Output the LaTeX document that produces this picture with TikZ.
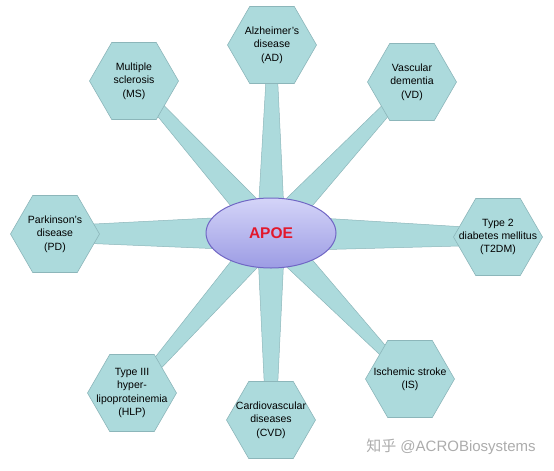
\documentclass[tikz,border=0pt]{standalone}
\usepackage{fontspec}
\setmainfont{Liberation Sans}
\newfontfamily\cjkfont{Noto Sans CJK SC}
\usetikzlibrary{calc,shapes.geometric}
\pgfdeclarelayer{background}
\pgfsetlayers{background,main}
\definecolor{hexfill}{RGB}{172,218,220}
\definecolor{hexline}{RGB}{140,182,186}
\definecolor{apoetop}{RGB}{212,212,248}
\definecolor{apoebot}{RGB}{156,156,228}
\definecolor{apoeline}{RGB}{112,102,196}
\definecolor{apoered}{RGB}{226,24,44}
\definecolor{markgray}{RGB}{172,172,172}

% tapered spoke from the centre to one disease
\newcommand{\spoke}[3]{%
  \path[spoke] ($(apoe.center)!#2!90:(#1.center)$)
    -- ($(#1.center)!#3!-90:(apoe.center)$)
    -- ($(#1.center)!#3!90:(apoe.center)$)
    -- ($(apoe.center)!#2!-90:(#1.center)$) -- cycle;}

\begin{document}
\begin{tikzpicture}[x=1pt,y=-1pt,
    disease/.style={regular polygon,regular polygon sides=6,minimum size=89pt,
                    inner sep=0pt,fill=hexfill,draw=hexline,line width=0.6pt},
    txt/.style={align=center,font=\fontsize{10.5}{13.3}\selectfont},
    spoke/.style={fill=hexfill,draw=hexline,line width=0.5pt},
    centre/.style={ellipse,minimum width=130pt,minimum height=70pt,
                   top color=apoetop,bottom color=apoebot,draw=apoeline,line width=1pt,
                   text=apoered,font=\fontsize{15.5}{18}\selectfont\bfseries},
    watermark/.style={text=markgray,font=\fontsize{15}{17}\selectfont}]
  \useasboundingbox (0,0) rectangle (554,471);

  \node[centre] (apoe) at (271,233) {APOE};

  \node[disease] (alz)  at (272,45)  [label={[txt]center:Alzheimer’s\\disease\\(AD)}] {};
  \node[disease] (ms)   at (134,81)  [label={[txt]center:Multiple\\sclerosis\\(MS)}] {};
  \node[disease] (vd)   at (412,82)  [label={[txt]center:Vascular\\dementia\\(VD)}] {};
  \node[disease] (pd)   at (55,234)  [label={[txt]center:Parkinson’s\\disease\\(PD)}] {};
  \node[disease] (t2dm) at (498,237) [label={[txt]center:Type 2\\diabetes mellitus\\(T2DM)}] {};
  \node[disease] (hlp)  at (132,393) [label={[txt]center:Type III\\hyper-\\lipoproteinemia\\(HLP)}] {};
  \node[disease] (cvd)  at (271,420) [label={[txt]center:Cardiovascular\\diseases\\(CVD)}] {};
  \node[disease] (ist)  at (410,379) [label={[txt]center:Ischemic stroke\\(IS)}] {};

  \begin{pgfonlayer}{background}
    \spoke{alz}{14pt}{4pt}
    \spoke{ms}{14pt}{4pt}
    \spoke{vd}{14pt}{4pt}
    \spoke{pd}{18pt}{8pt}
    \spoke{t2dm}{18pt}{8pt}
    \spoke{hlp}{14pt}{4pt}
    \spoke{cvd}{14pt}{5pt}
    \spoke{ist}{14pt}{3pt}
  \end{pgfonlayer}

  \node[watermark] (mark) at (451,447) {{\cjkfont 知乎} @ACROBiosystems};
\end{tikzpicture}
\end{document}
